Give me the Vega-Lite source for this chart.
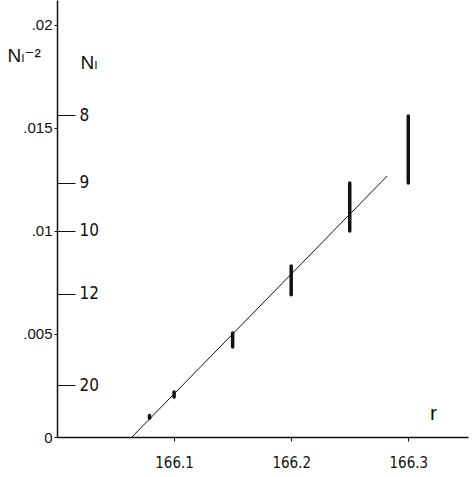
{
  "$schema": "https://vega.github.io/schema/vega-lite/v6.json",
  "width": 411,
  "height": 437,
  "autosize": {"type": "none"},
  "padding": {"left": 57, "top": 0, "right": 6, "bottom": 40},
  "background": "white",
  "config": {
    "view": {"stroke": null},
    "font": "Liberation Sans",
    "axis": {
      "grid": false,
      "domainColor": "#111",
      "tickColor": "#111",
      "labelColor": "#111",
      "titleColor": "#111",
      "titleFontWeight": "normal",
      "labelFont": "Liberation Sans Narrow, DejaVu Sans Condensed, Liberation Sans, sans-serif",
      "titleFont": "Liberation Sans, DejaVu Sans, sans-serif"
    }
  },
  "datasets": {
    "fit": [
      {"r": 166.064, "n2": 0},
      {"r": 166.282, "n2": 0.01267}
    ],
    "bars": [
      {"r": 166.079, "lo": 0.00091, "hi": 0.00104},
      {"r": 166.1, "lo": 0.00194, "hi": 0.00218},
      {"r": 166.15, "lo": 0.00437, "hi": 0.00505},
      {"r": 166.2, "lo": 0.0069, "hi": 0.0083},
      {"r": 166.25, "lo": 0.0100, "hi": 0.01233},
      {"r": 166.3, "lo": 0.01233, "hi": 0.01558}
    ],
    "nl": [
      {"N": 8, "inv": 0.015625},
      {"N": 9, "inv": 0.012346},
      {"N": 10, "inv": 0.01},
      {"N": 12, "inv": 0.006944},
      {"N": 20, "inv": 0.0025}
    ]
  },
  "layer": [
    {
      "data": {"name": "fit"},
      "mark": {"type": "line", "color": "#111", "strokeWidth": 1},
      "encoding": {
        "x": {
          "field": "r", "type": "quantitative",
          "scale": {"domain": [166.0, 166.351], "nice": false, "zero": false},
          "axis": {
            "values": [166.1, 166.2, 166.3], "format": ".1f",
            "title": "r", "titleAngle": 0, "titleX": 376, "titleY": -24,
            "titleFontSize": 21, "titleBaseline": "middle",
            "labelFontSize": 15, "tickSize": 4, "labelPadding": 14, "domainWidth": 1.5
          }
        },
        "y": {
          "field": "n2", "type": "quantitative",
          "scale": {"domain": [0, 0.02121], "nice": false},
          "axis": {
            "orient": "left",
            "values": [0, 0.005, 0.01, 0.015, 0.02],
            "labelExpr": "datum.value == 0 ? '0' : substring(format(datum.value, '.3~f'), 1)",
            "labelFont": "Liberation Sans, sans-serif",
            "title": "Nₗ⁻²", "titleAngle": 0, "titleX": -50, "titleY": 55,
            "titleAlign": "left", "titleBaseline": "middle", "titleFontSize": 19,
            "labelFontSize": 15, "tickSize": 3, "labelPadding": 2, "domainWidth": 1.5
          }
        }
      }
    },
    {
      "data": {"name": "bars"},
      "mark": {"type": "rule", "color": "#111", "strokeWidth": 3.5, "strokeCap": "round"},
      "encoding": {
        "x": {"field": "r", "type": "quantitative"},
        "y": {"field": "lo", "type": "quantitative", "axis": null},
        "y2": {"field": "hi"}
      }
    },
    {
      "data": {"name": "nl"},
      "mark": {"type": "point", "opacity": 0},
      "encoding": {
        "x": {"datum": 166.0, "type": "quantitative"},
        "y": {
          "field": "inv", "type": "quantitative",
          "axis": {
            "orient": "right", "offset": -411, "domain": false,
            "values": [0.015625, 0.012346, 0.01, 0.006944, 0.0025],
            "labelExpr": "format(round(sqrt(1 / datum.value)), 'd')",
            "tickSize": 18, "labelPadding": 4, "labelFontSize": 17,
            "title": "Nₗ", "titleAngle": 0, "titleX": 23, "titleY": 62,
            "titleAlign": "left", "titleBaseline": "middle", "titleFontSize": 19
          }
        }
      }
    }
  ],
  "resolve": {"axis": {"y": "independent"}}
}
